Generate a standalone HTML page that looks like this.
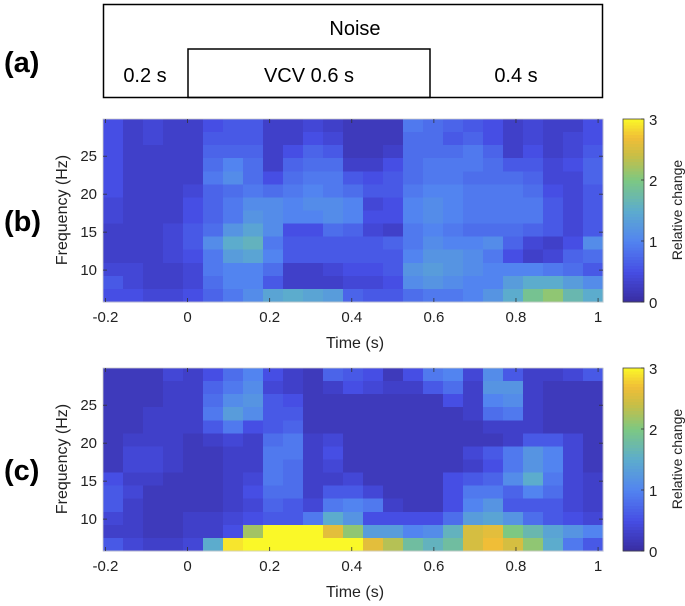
<!DOCTYPE html>
<html><head><meta charset="utf-8"><style>
html,body{margin:0;padding:0;background:#fff;}
svg{display:block;font-family:"Liberation Sans",Arial,sans-serif;}
</style></head><body>
<svg id="fig" width="685" height="606" viewBox="0 0 685 606" xmlns="http://www.w3.org/2000/svg">
<g>
<text x="4" y="72" font-size="29" font-weight="bold">(a)</text>
<rect x="103.5" y="4.5" width="499" height="93" fill="none" stroke="#000" stroke-width="1.5"/>
<rect x="188" y="49" width="242" height="48.5" fill="none" stroke="#000" stroke-width="1.5"/>
<text x="355" y="35" font-size="20" text-anchor="middle">Noise</text>
<text x="145" y="82" font-size="20" text-anchor="middle">0.2 s</text>
<text x="309" y="82" font-size="20" text-anchor="middle">VCV 0.6 s</text>
<text x="516" y="82" font-size="20" text-anchor="middle">0.4 s</text>
</g>
</svg>
<script>
const timeTicks=[-0.2,0,0.2,0.4,0.6,0.8,1];
const timeTickLabels=["-0.2","0","0.2","0.4","0.6","0.8","1"];
const freqTicks=[10,15,20,25];
const freqTickLabels=["10","15","20","25"];
const cbarTicks=[0,1,2,3];
const cbarTickLabels=["0","1","2","3"];
const tMin=-0.206,tMax=1.012,fMin=5.8,fMax=29.9;
const nCols=25,nRows=14;
// rows listed top (high freq) to bottom (low freq)
const heatB=[
[0.5,0.3,0.4,0.3,0.3,0.5,0.6,0.6,0.3,0.3,0.4,0.3,0.2,0.2,0.2,0.9,0.8,0.7,0.6,0.5,0.3,0.4,0.3,0.3,0.5],
[0.5,0.3,0.4,0.3,0.3,0.6,0.6,0.6,0.3,0.3,0.5,0.4,0.2,0.2,0.2,0.8,0.8,0.6,0.7,0.5,0.3,0.4,0.3,0.4,0.5],
[0.5,0.3,0.3,0.3,0.3,0.7,0.7,0.7,0.3,0.5,0.7,0.6,0.2,0.2,0.3,0.8,0.8,0.8,0.9,0.7,0.3,0.5,0.3,0.4,0.6],
[0.5,0.3,0.3,0.3,0.3,0.8,1.0,0.8,0.3,0.7,0.8,0.8,0.3,0.3,0.5,0.8,0.9,0.9,0.9,0.8,0.6,0.6,0.4,0.5,0.7],
[0.5,0.3,0.3,0.3,0.3,0.9,1.1,0.8,0.5,0.8,0.9,0.9,0.6,0.5,0.6,0.8,0.9,0.9,0.8,0.8,0.8,0.7,0.4,0.4,0.7],
[0.5,0.3,0.3,0.3,0.4,0.7,0.8,0.9,0.8,0.9,1.0,0.9,0.8,0.6,0.6,0.9,1.0,1.0,0.9,0.9,0.9,0.8,0.5,0.4,0.6],
[0.4,0.3,0.3,0.3,0.5,0.7,0.9,1.1,1.1,1.0,1.1,1.1,1.0,0.4,0.5,1.0,1.1,1.0,0.9,0.9,0.9,0.9,0.6,0.4,0.6],
[0.4,0.3,0.3,0.3,0.5,0.7,0.9,1.2,1.1,1.0,1.0,1.1,1.0,0.5,0.5,1.0,1.1,1.0,0.9,0.9,0.9,0.9,0.6,0.4,0.6],
[0.3,0.3,0.3,0.4,0.6,0.8,1.2,1.4,1.1,0.5,0.5,0.8,0.7,0.4,0.3,0.9,1.0,0.9,0.8,0.8,0.8,0.7,0.6,0.4,0.6],
[0.3,0.3,0.3,0.4,0.6,1.1,1.5,1.6,0.9,0.6,0.6,0.6,0.6,0.6,0.7,0.9,1.1,1.0,1.0,1.1,0.7,0.4,0.3,0.5,1.1],
[0.3,0.3,0.3,0.4,0.5,0.9,1.3,1.4,1.0,0.6,0.6,0.6,0.6,0.6,0.6,1.0,1.2,1.2,1.1,0.9,0.5,0.3,0.4,0.7,0.8],
[0.4,0.4,0.3,0.3,0.4,0.9,1.0,1.0,0.8,0.3,0.3,0.4,0.5,0.5,0.6,1.2,1.3,1.2,1.1,1.0,1.0,1.0,0.9,0.8,0.6],
[0.6,0.4,0.3,0.3,0.4,0.8,1.0,1.0,0.6,0.3,0.3,0.3,0.4,0.4,0.5,1.1,1.2,1.1,1.0,1.0,1.3,1.5,1.5,1.3,1.1],
[0.5,0.5,0.4,0.4,0.5,0.7,0.9,1.1,1.4,1.5,1.4,1.3,0.7,0.6,0.6,0.8,0.9,0.9,1.0,1.2,1.5,1.9,2.1,1.7,1.5]
];
const heatC=[
[0.2,0.2,0.2,0.4,0.3,0.5,0.8,1.0,0.5,0.3,0.2,0.7,0.6,0.5,0.2,0.5,0.9,1.0,0.4,1.1,0.6,0.3,0.3,0.4,0.6],
[0.2,0.2,0.2,0.3,0.3,0.7,0.9,1.1,0.4,0.3,0.2,0.3,0.5,0.4,0.3,0.3,0.6,0.8,0.3,1.2,1.2,0.3,0.2,0.2,0.2],
[0.2,0.2,0.2,0.3,0.3,0.8,1.1,1.2,0.6,0.5,0.2,0.2,0.2,0.2,0.2,0.2,0.2,0.5,0.3,1.0,1.1,0.3,0.2,0.2,0.2],
[0.2,0.2,0.3,0.3,0.3,0.9,1.3,1.1,0.6,0.6,0.2,0.2,0.2,0.2,0.2,0.2,0.2,0.2,0.3,0.8,0.9,0.3,0.2,0.2,0.2],
[0.2,0.2,0.3,0.3,0.3,0.6,0.9,0.5,0.6,0.7,0.2,0.2,0.2,0.2,0.2,0.2,0.2,0.2,0.2,0.3,0.3,0.3,0.2,0.2,0.2],
[0.2,0.3,0.3,0.3,0.2,0.3,0.4,0.3,0.8,0.9,0.3,0.4,0.2,0.2,0.2,0.2,0.2,0.2,0.2,0.2,0.3,0.6,0.6,0.4,0.2],
[0.2,0.4,0.4,0.3,0.2,0.2,0.3,0.3,0.9,0.9,0.3,0.5,0.2,0.2,0.2,0.2,0.2,0.2,0.4,0.6,0.9,1.2,1.0,0.4,0.2],
[0.2,0.4,0.4,0.3,0.2,0.2,0.3,0.3,0.9,0.8,0.3,0.4,0.2,0.2,0.2,0.2,0.2,0.2,0.3,0.5,0.9,1.2,1.0,0.4,0.2],
[0.5,0.3,0.3,0.2,0.2,0.2,0.3,0.4,0.9,0.8,0.3,0.3,0.4,0.2,0.2,0.2,0.2,0.5,0.6,0.7,1.1,1.5,0.9,0.4,0.3],
[0.6,0.4,0.2,0.2,0.2,0.2,0.3,0.5,0.8,0.8,0.3,0.6,0.6,0.4,0.2,0.2,0.2,0.5,0.9,0.9,0.7,1.0,0.8,0.4,0.3],
[0.6,0.3,0.2,0.2,0.2,0.2,0.3,0.4,0.7,0.6,0.4,0.9,1.0,0.9,0.3,0.2,0.2,0.5,1.0,1.2,0.6,0.6,0.6,0.4,0.3],
[0.4,0.3,0.2,0.2,0.3,0.3,0.4,0.5,0.6,0.6,0.9,1.5,1.2,0.5,0.5,0.5,0.5,0.8,1.3,1.4,1.2,0.8,0.6,0.5,0.4],
[0.3,0.3,0.2,0.2,0.3,0.3,0.5,2.2,3.0,3.0,3.0,2.6,2.1,1.3,1.3,1.0,1.1,1.6,2.5,2.6,2.0,1.7,1.4,1.2,1.0],
[0.6,0.4,0.3,0.3,0.4,1.5,2.9,3.0,3.0,3.0,3.0,3.0,3.0,2.6,2.3,1.8,1.6,1.8,2.5,2.7,2.5,2.1,1.5,0.9,0.6]
];
const NS="http://www.w3.org/2000/svg";
const fig=document.getElementById('fig');
const cmStops=[0,0.5,1.0,1.5,2.0,2.4,2.7,3.0];
const cmColors=[[56,44,160],[70,78,228],[82,132,240],[92,172,205],[125,200,130],[200,190,70],[240,190,55],[250,248,40]];
function cmap(v){v=Math.max(0,Math.min(3,v));let i=0;while(i<cmStops.length-2&&v>cmStops[i+1])i++;
const t=(v-cmStops[i])/(cmStops[i+1]-cmStops[i]);const a=cmColors[i],b=cmColors[i+1];
return `rgb(${a.map((c,k)=>Math.round(c+(b[k]-c)*t)).join(',')})`;}
function mk(tag,attrs,parent){const e=document.createElementNS(NS,tag);for(const k in attrs)e.setAttribute(k,attrs[k]);parent.appendChild(e);return e;}
const X0=103,X1=603;
function xScale(t){return X0+(t-tMin)/(tMax-tMin)*(X1-X0);}
function drawPanel(data,top,label,name){
  const bot=top+183;
  const yScale=f=>bot-(f-fMin)/(fMax-fMin)*(bot-top);
  const g=mk('g',{},fig);
  
  
  const cells=mk('g',{'shape-rendering':'crispEdges'},g);
  
  
  const dt=(tMax-tMin)/nCols,df=(fMax-fMin)/nRows;
  for(let r=0;r<nRows;r++)for(let c=0;c<nCols;c++){
    const fHi=fMax-r*df,fLo=fHi-df,t0=tMin+c*dt,t1=t0+dt;
    const x=xScale(t0),y=yScale(fHi);
    const rc=mk('rect',{x:x,y:y,width:xScale(t1)-x+0.5,height:yScale(fLo)-y+0.5,fill:cmap(data[r][c])},cells);
    
    
  }
  const fr=mk('rect',{x:X0,y:top,width:X1-X0,height:183,fill:'none',stroke:'#ccc','stroke-width':0.8},g);
  
  
  timeTicks.forEach((t,i)=>{const x=xScale(t);
    mk('line',{x1:x,x2:x,y1:bot,y2:bot-4,stroke:'#333','stroke-width':0.8},g);
    mk('line',{x1:x,x2:x,y1:top,y2:top+4,stroke:'#333','stroke-width':0.8},g);
    const tx=mk('text',{x:x,y:bot+20,'font-size':15,'text-anchor':'middle',fill:'#222'},g);tx.textContent=timeTickLabels[i];
    
    });
  freqTicks.forEach((f,i)=>{const y=yScale(f);
    mk('line',{x1:X0,x2:X0+4,y1:y,y2:y,stroke:'#333','stroke-width':0.8},g);
    mk('line',{x1:X1,x2:X1-4,y1:y,y2:y,stroke:'#333','stroke-width':0.8},g);
    const tx=mk('text',{x:X0-6,y:y+5,'font-size':15,'text-anchor':'end',fill:'#222'},g);tx.textContent=freqTickLabels[i];
    
    });
  const xl=mk('text',{x:355,y:bot+46,'font-size':16,'text-anchor':'middle',fill:'#222'},g);xl.textContent='Time (s)';
  
  
  const yl=mk('text',{x:0,y:0,'font-size':16,'text-anchor':'middle',fill:'#222',transform:`translate(67,${top+91}) rotate(-90)`},g);yl.textContent='Frequency (Hz)';
  
  
  const pl=mk('text',{x:4,y:top+112,'font-size':29,'font-weight':'bold'},g);pl.textContent=label;
  
  
  const cb=mk('g',{},g);
  
  
  const cy=v=>bot-v/3*(bot-top);
  for(let k=0;k<60;k++){const v0=k*3/60,v1=(k+1)*3/60;
    mk('rect',{x:623,y:cy(v1),width:21,height:cy(v0)-cy(v1)+0.5,fill:cmap((v0+v1)/2),'shape-rendering':'crispEdges'},cb);}
  mk('rect',{x:623,y:top,width:21,height:183,fill:'none',stroke:'#444','stroke-width':0.8},cb);
  cbarTicks.forEach((v,i)=>{const y=cy(v);
    mk('line',{x1:644,x2:641,y1:y,y2:y,stroke:'#333','stroke-width':0.8},cb);
    const tx=mk('text',{x:649,y:y+6,'font-size':15,fill:'#222'},cb);tx.textContent=cbarTickLabels[i];
    
    });
  const cl=mk('text',{x:0,y:0,'font-size':14,'text-anchor':'middle',fill:'#222',transform:`translate(682,${top+91}) rotate(-90)`},cb);cl.textContent='Relative change';
  
  
}
drawPanel(heatB,119,'(b)','panel-b');
drawPanel(heatC,368,'(c)','panel-c');
</script>
</body></html>
